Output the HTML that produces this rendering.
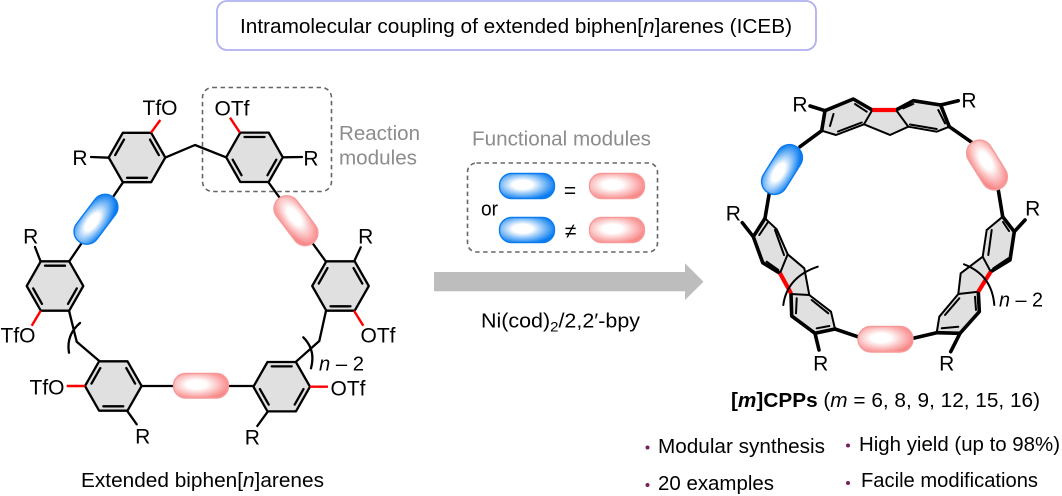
<!DOCTYPE html>
<html><head><meta charset="utf-8"><style>
html,body{margin:0;padding:0;background:#fff}
svg{display:block}
text{font-family:"Liberation Sans",sans-serif;fill:#000}
.c{font-size:21px;text-anchor:middle}
.g{fill:#8c8c8c}
.h{fill:#e0e0e0;stroke:#000;stroke-width:2.3;stroke-linejoin:round}
.b{stroke:#000;stroke-width:2.3;fill:none;stroke-linecap:round;stroke-linejoin:round}
.t{stroke:#000;stroke-width:3.6;fill:none;stroke-linecap:round;stroke-linejoin:round}
.r{stroke:#f00;stroke-width:2.4;fill:none}
.rt{stroke:#f00;stroke-width:4.2;fill:none}
.d{fill:none;stroke:#666;stroke-width:1.6;stroke-dasharray:4.5 3.5}
</style></head><body>
<svg width="1062" height="496" viewBox="0 0 1062 496" xmlns="http://www.w3.org/2000/svg">
<defs>
<radialGradient id="bl" cx=".42" cy=".45" r=".6"><stop offset="0" stop-color="#fff"/><stop offset=".3" stop-color="#fff"/><stop offset=".7" stop-color="#70b4f6"/><stop offset="1" stop-color="#0a7cf0"/></radialGradient>
<radialGradient id="pk" cx=".42" cy=".45" r=".6"><stop offset="0" stop-color="#fff"/><stop offset=".3" stop-color="#fff"/><stop offset=".7" stop-color="#fbbaba"/><stop offset="1" stop-color="#f88888"/></radialGradient>
<g id="h1"><polygon class="h" points="-14.2,-24.7 14.2,-24.7 28.3,0 14.2,24.7 -14.2,24.7 -28.3,0"/><path class="b" d="M-13-17.9L-21.8-2.4M13-17.9L21.8-2.4M-10 20.3H10"/></g>
<g id="h2"><polygon class="h" points="-14.2,-24.7 14.2,-24.7 28.3,0 14.2,24.7 -14.2,24.7 -28.3,0"/><path class="b" d="M-13 17.9L-21.8 2.4M13 17.9L21.8 2.4M-10-20.3H10"/></g>
</defs>

<!-- title -->
<rect x="217" y="1" width="599" height="49" rx="10" fill="#fff" stroke="#b0b0f0" stroke-width="1.8"/>
<text x="240" y="33" font-size="20.5" textLength="552" lengthAdjust="spacingAndGlyphs">Intramolecular coupling of extended biphen[<tspan font-style="italic">n</tspan>]arenes (ICEB)</text>

<!-- left structure bonds -->
<path class="b" d="M165 157.7L195 145L226 157.3"/>
<path class="b" d="M123 182.3L69 261.7"/>
<path class="b" d="M268 181.7L326 261.7"/>
<path class="b" d="M69 310.7L76.7 341.7L99.3 361"/>
<path class="b" d="M326 310.7L319.3 341L296 361.7"/>
<path class="b" d="M141.7 386H253.3"/>
<path class="b" d="M109 157.7L91 157M283 157.3L302 157M40.7 261.7L35 247M354 261.7L360.7 247.3M127.3 411L136.7 424.3M267.7 411.7L257.3 426"/>
<path class="b" d="M80 323Q66 335 69 352.7M303.3 337.3Q316 350 311 368.3"/>
<use href="#h1" x="137" y="157.5"/>
<use href="#h2" x="254.5" y="157.3"/>
<use href="#h2" x="55" y="286"/>
<use href="#h1" x="340.5" y="286"/>
<use href="#h1" x="113.3" y="386"/>
<use href="#h2" x="281.7" y="386.7"/>
<path class="r" d="M151 132.7L160.3 120M240 132.7L230 117.7M40.7 310.7L31.7 325.7M354 310.7L363.3 325.7M85 386H66.7M310 386.7H328"/>
<rect x="68" y="206.5" width="56" height="25.5" rx="12.7" fill="url(#bl)" stroke="#0a7cf0" stroke-width="1.4" transform="rotate(-53 96 219.3)"/>
<rect x="268" y="208" width="56" height="25.5" rx="12.7" fill="url(#pk)" stroke="#f89a9a" stroke-width="1.4" transform="rotate(53 296 220.7)"/>
<rect x="173.5" y="373.5" width="55" height="24.5" rx="12" fill="url(#pk)" stroke="#f89a9a" stroke-width="1.4"/>
<rect x="202.5" y="87.5" width="129" height="104" rx="10" class="d"/>

<text class="c" x="160" y="115">TfO</text>
<text class="c" x="232" y="115.500">OTf</text>
<text class="c" x="80" y="165">R</text>
<text class="c" x="311" y="165.500">R</text>
<text class="c" x="30.7" y="243.500">R</text>
<text class="c" x="365.7" y="243.500">R</text>
<text class="c" x="18" y="342.500">TfO</text>
<text class="c" x="378" y="342.500">OTf</text>
<text class="c" x="47" y="394.500">TfO</text>
<text class="c" x="348" y="395.500">OTf</text>
<text class="c" x="142.7" y="443.500">R</text>
<text class="c" x="252.3" y="444.500">R</text>
<text x="319" y="370.500" font-size="20.5" textLength="45" lengthAdjust="spacingAndGlyphs"><tspan font-style="italic">n</tspan> – 2</text>
<text class="g" x="339" y="140" font-size="20.5" textLength="81" lengthAdjust="spacingAndGlyphs">Reaction</text>
<text class="g" x="339" y="164.500" font-size="20.5" textLength="78" lengthAdjust="spacingAndGlyphs">modules</text>
<text x="81" y="487" font-size="20.5" textLength="243" lengthAdjust="spacingAndGlyphs">Extended biphen[<tspan font-style="italic">n</tspan>]arenes</text>

<!-- middle -->
<text class="g" x="472" y="145.500" font-size="20.5" textLength="179" lengthAdjust="spacingAndGlyphs">Functional modules</text>
<rect x="467.5" y="163" width="190" height="89" rx="9" class="d"/>
<rect x="499.5" y="173.5" width="55" height="25" rx="12" fill="url(#bl)" stroke="#0a7cf0" stroke-width="1.4"/>
<rect x="589.5" y="173.5" width="55" height="25" rx="12" fill="url(#pk)" stroke="#f89a9a" stroke-width="1.4"/>
<rect x="499.5" y="217.5" width="55" height="25" rx="12" fill="url(#bl)" stroke="#0a7cf0" stroke-width="1.4"/>
<rect x="589.5" y="217.5" width="55" height="25" rx="12" fill="url(#pk)" stroke="#f89a9a" stroke-width="1.4"/>
<text x="570" y="197.500" font-size="21" text-anchor="middle">=</text>
<text x="570.5" y="238" font-size="21" text-anchor="middle">≠</text>
<text x="481" y="215.500" font-size="20.5" textLength="17" lengthAdjust="spacingAndGlyphs">or</text>
<polygon points="434,272 685,272 685,263.3 703.5,281.7 685,300 685,291.3 434,291.3" fill="#bdbdbd"/>
<text x="481" y="327.500" font-size="20" textLength="159" lengthAdjust="spacingAndGlyphs">Ni(cod)<tspan font-size="14" dy="4">2</tspan><tspan dy="-4">/2,2′-bpy</tspan></text>

<!-- right structure bonds -->
<path class="t" d="M821.7 130.7L800 146.7M949.3 126.7L971.7 142.3M769.3 193L765 218.3M998.3 190L1002.7 216.7M835 329L857.7 336.7M913.3 338.3L936.7 332.7"/>
<path class="t" d="M825 110.7L810 106M940.7 105L958.3 100.7M753.3 236.7L742.3 222.7M1014.3 231.7L1025 220M815 333.3L819 350M960 333.3L950.7 351.7"/>
<!-- top fluorene -->
<polygon points="872.3,110 896,110 908.3,126.7 890,135 864,124.3" fill="#e0e0e0"/>
<polygon class="h" points="825,110.7 853.3,99 872.3,110 864,124.3 836,135 821.7,130.7" style="stroke-width:2"/>
<polygon class="h" points="896,110 913.3,100.7 940.7,105 949.3,126.7 936.7,131.7 908.3,126.7" style="stroke-width:2"/>
<path class="b" d="M864 124.3L890 135L908.3 126.7" style="stroke-width:2"/>
<path class="t" d="M821.7 130.7L825 110.7L853.3 99L872.3 110M896 110L913.3 100.7L940.7 105L949.3 126.7"/>
<path class="b" d="M830 126L833.5 114M855 104L866.7 111.7M838 131.5L861.7 122.5M903.3 108.3L913.3 104M938.3 110L945 123.3M910 124.5L936.7 129" style="stroke-width:2"/>
<path class="rt" d="M872.3 110H896"/>
<!-- left side fluorene -->
<polygon points="787.7,254.3 804.3,268.3 809.3,295 791,294 780,273.3" fill="#e0e0e0"/>
<polygon class="h" points="765,218.3 753.3,236.7 762.7,262.7 780,273.3 787.7,254.3 776.7,229.3" style="stroke-width:2"/>
<polygon class="h" points="791,294 791.7,316 815,333.3 835,329 831,311.7 809.3,295" style="stroke-width:2"/>
<path class="b" d="M787.7 254.3L804.3 268.3L809.3 295" style="stroke-width:2"/>
<path class="t" d="M765 218.3L753.3 236.7L762.7 262.7L780 273.3M791 294L791.7 316L815 333.3L835 329"/>
<path class="b" d="M759.3 235L768.3 221.7M766.7 261.7L778.3 270M775 230L784 255M796.7 298.3L796 313.3M816.7 328.3L829.3 326M811.7 300L828.3 313.3" style="stroke-width:2"/>
<path class="rt" d="M780 273.3L791 293.3"/>
<!-- right side fluorene -->
<polygon points="958.3,294 960.7,273.3 982.7,256.7 990.7,271.7 978.3,291.7" fill="#e0e0e0"/>
<polygon class="h" points="936.7,332.7 960,333.3 979.3,311.7 978.3,291.7 958.3,294 939.3,316.7" style="stroke-width:2"/>
<polygon class="h" points="1002.7,216.7 1014.3,231.7 1010,260 990.7,271.7 982.7,256.7 986.7,230" style="stroke-width:2"/>
<path class="b" d="M958.3 294L960.7 273.3L982.7 256.7" style="stroke-width:2"/>
<path class="t" d="M936.7 332.7L960 333.3L979.3 311.7L978.3 291.7M1002.7 216.7L1014.3 231.7L1010 260L990.7 271.7"/>
<path class="b" d="M941.7 328.3L958.3 326.7M975 296.7L976 310M945 315L959.3 298.3M1003 222L1009 231M1008.3 258.3L993.3 268.3M991.7 230L988.3 255" style="stroke-width:2"/>
<path class="rt" d="M978.3 291.7L990.7 271.7"/>
<path class="b" d="M817.7 266.7Q787 277 783.3 305M964 264.3Q992 275 994.3 305" style="stroke-width:2"/>
<rect x="755" y="156.5" width="54" height="26" rx="13" fill="url(#bl)" stroke="#0a7cf0" stroke-width="1.4" transform="rotate(-58 782 169.5)"/>
<rect x="960" y="152" width="54" height="26" rx="13" fill="url(#pk)" stroke="#f89a9a" stroke-width="1.4" transform="rotate(58 987 165)"/>
<rect x="858" y="326.5" width="55" height="25.5" rx="12.7" fill="url(#pk)" stroke="#f89a9a" stroke-width="1.4"/>
<text class="c" x="800" y="111.500">R</text>
<text class="c" x="969" y="107.500">R</text>
<text class="c" x="733.3" y="220.500">R</text>
<text class="c" x="1032.7" y="215.500">R</text>
<text class="c" x="820.7" y="370.500">R</text>
<text class="c" x="946.7" y="370.500">R</text>
<text x="999" y="306.500" font-size="20.5" textLength="44" lengthAdjust="spacingAndGlyphs"><tspan font-style="italic">n</tspan> – 2</text>

<!-- bottom right text -->
<text x="731" y="407" font-size="20" textLength="309" lengthAdjust="spacingAndGlyphs"><tspan font-weight="bold">[<tspan font-style="italic">m</tspan>]CPPs</tspan> (<tspan font-style="italic">m</tspan> = 6, 8, 9, 12, 15, 16)</text>
<circle cx="647.5" cy="447.5" r="2" fill="#7a1f5a"/>
<circle cx="848" cy="445.5" r="2" fill="#7a1f5a"/>
<circle cx="647.5" cy="485" r="2" fill="#7a1f5a"/>
<circle cx="848" cy="483" r="2" fill="#7a1f5a"/>
<text x="658" y="453" font-size="20.5" textLength="167" lengthAdjust="spacingAndGlyphs">Modular synthesis</text>
<text x="859" y="451" font-size="20.5" textLength="201" lengthAdjust="spacingAndGlyphs">High yield (up to 98%)</text>
<text x="658" y="490" font-size="20.5" textLength="116" lengthAdjust="spacingAndGlyphs">20 examples</text>
<text x="861" y="487" font-size="20.5" textLength="177" lengthAdjust="spacingAndGlyphs">Facile modifications</text>
</svg>
</body></html>
